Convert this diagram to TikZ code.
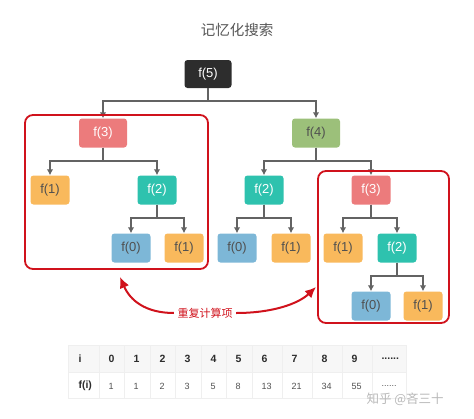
\documentclass[tikz,border=0pt]{standalone}
\usepackage{fontspec}
\setmainfont{Liberation Sans}
\newfontfamily\cjk{Noto Sans CJK SC}
\usetikzlibrary{arrows.meta}
\tikzset{>=latex}
\definecolor{cdark}{HTML}{2D2D2D}
\definecolor{cpink}{HTML}{EC7B7C}
\definecolor{cgreen}{HTML}{9CC07A}
\definecolor{cteal}{HTML}{2EC2AE}
\definecolor{corange}{HTML}{F9B95C}
\definecolor{cblue}{HTML}{7DB7D7}
\definecolor{ctext}{HTML}{505050}
\definecolor{clink}{HTML}{636363}
\definecolor{cred}{HTML}{D0121C}
\definecolor{ctitle}{HTML}{555555}
\definecolor{chead}{HTML}{F7F7F7}
\definecolor{cgrid}{HTML}{EFEFEF}
\newcommand{\moredots}{......}
\tikzstyle{fbox}=[rounded corners=3pt,minimum width=39pt,minimum height=29pt,inner sep=0pt,font=\fontsize{13}{15}\selectfont]
\tikzstyle{fzero}=[fbox,fill=cblue,text=ctext]
\tikzstyle{fone}=[fbox,fill=corange,text=ctext]
\tikzstyle{ftwo}=[fbox,fill=cteal,text=white]
\tikzstyle{fthree}=[fbox,fill=cpink,text=white]
\tikzstyle{link}=[-{Latex[length=6pt,width=6.5pt]},line width=1.8pt,draw=clink]
\tikzstyle{dupbox}=[draw=cred,line width=1.8pt,rounded corners=8pt]
\tikzstyle{duparrow}=[-{Latex[length=11pt,width=10pt]},line width=2pt,draw=cred]

\begin{document}
\begin{tikzpicture}[x=1pt,y=-1pt]
  \useasboundingbox (0,0) rectangle (474,418);

  \node[text=ctitle,font=\cjk\fontsize{14.5}{16}\selectfont] (title) at (237,30) {记忆化搜索};

  % call tree
  \node[fbox,fill=cdark,text=white,minimum width=47pt,minimum height=28pt] (f5) at (208,74) {f(5)};
  \node[fthree,minimum width=48pt] (l3) at (103,133) {f(3)};
  \node[fbox,fill=cgreen,text=ctext,minimum width=48pt] (r4) at (316,133) {f(4)};

  \node[fone] (l31) at (50,190) {f(1)};
  \node[ftwo] (l32) at (157,190) {f(2)};
  \node[fzero] (l320) at (131,248) {f(0)};
  \node[fone] (l321) at (184,248) {f(1)};

  \node[ftwo] (r42) at (264,190) {f(2)};
  \node[fthree] (r43) at (371,190) {f(3)};
  \node[fzero] (r420) at (237,248) {f(0)};
  \node[fone] (r421) at (291,248) {f(1)};
  \node[fone] (r431) at (343,248) {f(1)};
  \node[ftwo] (r432) at (397,248) {f(2)};
  \node[fzero] (r4320) at (371,306) {f(0)};
  \node[fone] (r4321) at (423,306) {f(1)};

  \foreach \p/\c in {f5/l3,f5/r4,l3/l31,l3/l32,l32/l320,l32/l321,
                     r4/r42,r4/r43,r42/r420,r42/r421,r43/r431,r43/r432,
                     r432/r4320,r432/r4321}{
    \draw[link] (\p.south) -- ++(0,13) -| (\c.north);
  }

  % repeated subtrees
  \draw[dupbox] (25,115) rectangle (208,269);
  \draw[dupbox] (318,171) rectangle (449,323);

  \node[text=cred,font=\cjk\fontsize{11}{13}\selectfont] (dup) at (205,313) {重复计算项};
  \coordinate (dupL) at (120,277);
  \coordinate (dupR) at (316,287);
  \draw[duparrow] (dup.west) .. controls (145,313) and (130,300) .. (dupL);
  \draw[duparrow] (dup.east) .. controls (272,313) and (298,304) .. (dupR);

  % table
  \fill[chead] (68,345) rectangle (406,372);
  \foreach \y in {345,372,398}{
    \draw[cgrid,line width=0.6pt] (68,\y) -- (406,\y);
  }
  \foreach \x in {68,99,124,150,175,201,226,252,282,312,342,372,406}{
    \draw[cgrid,line width=0.6pt] (\x,345) -- (\x,398);
  }
  \node[anchor=west,text=cdark,font=\bfseries\fontsize{10.5}{12}\selectfont] (hi) at (75,359) {i};
  \node[anchor=west,text=cdark,font=\bfseries\fontsize{10.5}{12}\selectfont] (vi) at (75,386) {f(i)};
  \foreach \x/\a/\b [count=\k] in {99/0/1,124/1/1,150/2/2,175/3/3,201/4/5,226/5/8,
                                   252/6/13,282/7/21,312/8/34,342/9/55,372/\moredots/\moredots}{
    \node[anchor=west,text=cdark,font=\bfseries\fontsize{10.5}{12}\selectfont] (h\k) at (\x+6,359) {\a};
    \node[anchor=west,text=ctext,font=\fontsize{9}{11}\selectfont] (v\k) at (\x+6,386) {\b};
  }

  \node[anchor=west,text=black!28,font=\cjk\fontsize{12.5}{14}\selectfont] (mark) at (363,399) {知乎 @吝三十};
\end{tikzpicture}
\end{document}
